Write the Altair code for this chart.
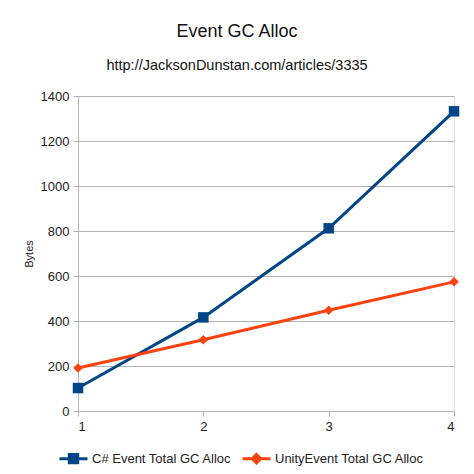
import altair as alt
import pandas as pd

runs = [1, 2, 3, 4]
csharp_bytes = [102, 416, 812, 1332]
unity_bytes = [191, 317, 448, 574]
series_names = ["C# Event Total GC Alloc", "UnityEvent Total GC Alloc"]
series_colors = ["#004586", "#ff420e"]

data = pd.DataFrame({
    "run": runs * 2,
    "bytes": csharp_bytes + unity_bytes,
    "series": [series_names[0]] * 4 + [series_names[1]] * 4,
})

font = "Liberation Sans"
# legend symbols: a short line with the marker on it
square_sym = "M-1,0H1M-0.3,-0.3H0.3V0.3H-0.3Z"
diamond_sym = "M-1,0H1M0,-0.3L0.3,0L0,0.3L-0.3,0Z"

legend = alt.Legend(title=None, orient="none", direction="horizontal",
                    legendX=-20, legendY=347,
                    labelFontSize=13, labelColor="#222", labelFont=font,
                    symbolSize=784, symbolStrokeWidth=3, labelOffset=3,
                    columnPadding=4)
color = alt.Color("series:N",
                  scale=alt.Scale(domain=series_names, range=series_colors),
                  legend=legend)

x = alt.X("run:Q", title=None,
          scale=alt.Scale(domain=[1, 4], nice=False),
          axis=alt.Axis(values=runs, grid=False, format="d", labelFontSize=13,
                        labelColor="#222", labelFont=font, domainColor="#b3b3b3",
                        tickColor="#b3b3b3", tickSize=5, labelPadding=4))
y = alt.Y("bytes:Q", title="Bytes",
          scale=alt.Scale(domain=[0, 1400]),
          axis=alt.Axis(values=list(range(0, 1401, 200)), format="d", labelFontSize=13,
                        labelColor="#222", labelFont=font, titleFont=font,
                        titleFontSize=11, titleFontWeight="normal", titleColor="#222",
                        gridColor="#b3b3b3", domainColor="#b3b3b3",
                        tickColor="#b3b3b3", tickSize=5, labelPadding=4, titlePadding=6))

base = alt.Chart(data).encode(x=x, y=y, color=color)

lines = base.mark_line(strokeWidth=3)
squares = base.mark_point(filled=True, opacity=1, shape="square", size=110).transform_filter(
    alt.datum.series == series_names[0])
diamonds = base.mark_point(filled=True, opacity=1, shape="diamond", size=90).transform_filter(
    alt.datum.series == series_names[1])
# draws nothing, only feeds the legend its line-and-marker symbols
legend_only = base.mark_point(filled=True, opacity=1, strokeWidth=3).encode(
    shape=alt.Shape("series:N", scale=alt.Scale(domain=series_names, range=[square_sym, diamond_sym]),
                    legend=legend),
    stroke=alt.Stroke("series:N", scale=alt.Scale(domain=series_names, range=series_colors),
                      legend=legend),
).transform_filter("false")

chart = (lines + squares + diamonds + legend_only).properties(
    width=376, height=315,
    autosize=alt.AutoSizeParams(type="none"),
    padding={"left": 70, "top": 88, "right": 12, "bottom": 62},
    title=alt.TitleParams(
        "Event GC Alloc",
        subtitle="http://JacksonDunstan.com/articles/3335",
        font=font, fontSize=18, fontWeight="normal", color="#111",
        subtitleFont=font, subtitleFontSize=14.5, subtitleColor="#111",
        subtitlePadding=18, offset=18, anchor="middle", dx=-29,
    ),
).configure_view(stroke="#b3b3b3").configure(background="white")

chart.save("out.html", embed_options={"renderer": "svg", "actions": False})
